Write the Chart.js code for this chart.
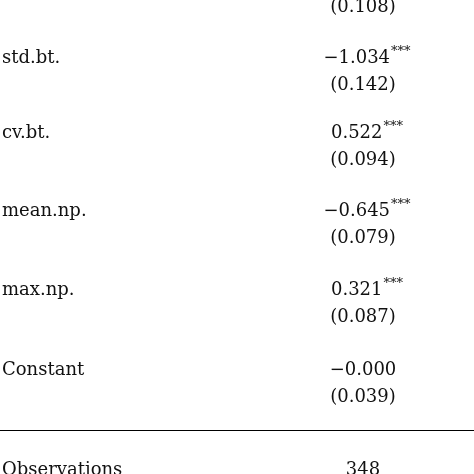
<!DOCTYPE html>
<html><head><meta charset="utf-8">
<script src="https://cdn.jsdelivr.net/npm/chart.js@4"></script>
<style>html,body{margin:0;background:#fff}#wrap{width:474px;height:474px}</style>
</head><body><div id="wrap"><canvas id="c"></canvas></div>
<script>
// table rows (top row is cut off in the picture)
const variables = ["", "std.bt.", "cv.bt.", "mean.np.", "max.np.", "Constant"];
const coefs = ["", "\u22121.034", "0.522", "\u22120.645", "0.321", "\u22120.000"];
const stars = ["", "***", "***", "***", "***", ""];
const stdErrs = ["(0.108)", "(0.142)", "(0.094)", "(0.079)", "(0.087)", "(0.039)"];
const rowY = [-20, 58, 133, 211, 290, 370];   // row positions in table units
const obsLabel = "Observations", obsValue = "348";

const FONT = '"DejaVu Serif", "Liberation Serif", serif';

const tablePlugin = {
  id: 'table',
  afterDraw(chart) {
    const { ctx, scales: { x, y } } = chart;
    ctx.save();
    ctx.fillStyle = '#111';
    ctx.textBaseline = 'middle';
    const cx = x.getPixelForValue(363);
    variables.forEach((v, i) => {
      const yc = y.getPixelForValue(rowY[i]);
      const ys = y.getPixelForValue(rowY[i] + 27);
      ctx.font = '18px ' + FONT;
      ctx.textAlign = 'left';
      if (v) ctx.fillText(v, x.getPixelForValue(2), yc);
      if (coefs[i]) {
        const w = ctx.measureText(coefs[i]).width;
        ctx.font = '13px ' + FONT;
        const ws = stars[i] ? ctx.measureText(stars[i]).width + 1 : 0;
        const left = cx - (w + ws) / 2 + (stars[i] ? 4 : 0);
        ctx.font = '18px ' + FONT;
        ctx.fillText(coefs[i], left, yc);
        if (stars[i]) {
          ctx.font = '13px ' + FONT;
          ctx.fillText(stars[i], left + w + 1, yc - 6);
          ctx.font = '18px ' + FONT;
        }
      }
      ctx.textAlign = 'center';
      ctx.fillText(stdErrs[i], cx, ys);
    });
    // rule
    ctx.strokeStyle = '#000'; ctx.lineWidth = 1;
    ctx.beginPath();
    ctx.moveTo(x.getPixelForValue(0), y.getPixelForValue(430.5));
    ctx.lineTo(x.getPixelForValue(474), y.getPixelForValue(430.5));
    ctx.stroke();
    ctx.textAlign = 'left';
    ctx.fillText(obsLabel, x.getPixelForValue(2), y.getPixelForValue(470));
    ctx.textAlign = 'center';
    ctx.fillText(obsValue, cx, y.getPixelForValue(470));
    ctx.restore();
  }
};

new Chart(document.getElementById('c'), {
  type: 'scatter',
  data: { datasets: [{ data: [], pointRadius: 0 }] },
  options: {
    responsive: true, maintainAspectRatio: false, animation: false,
    layout: { padding: 0 },
    plugins: { legend: { display: false }, tooltip: { enabled: false } },
    scales: {
      x: { type: 'linear', min: 0, max: 474, display: false },
      y: { type: 'linear', min: 0, max: 474, reverse: true, display: false }
    }
  },
  plugins: [tablePlugin]
});
</script></body></html>
